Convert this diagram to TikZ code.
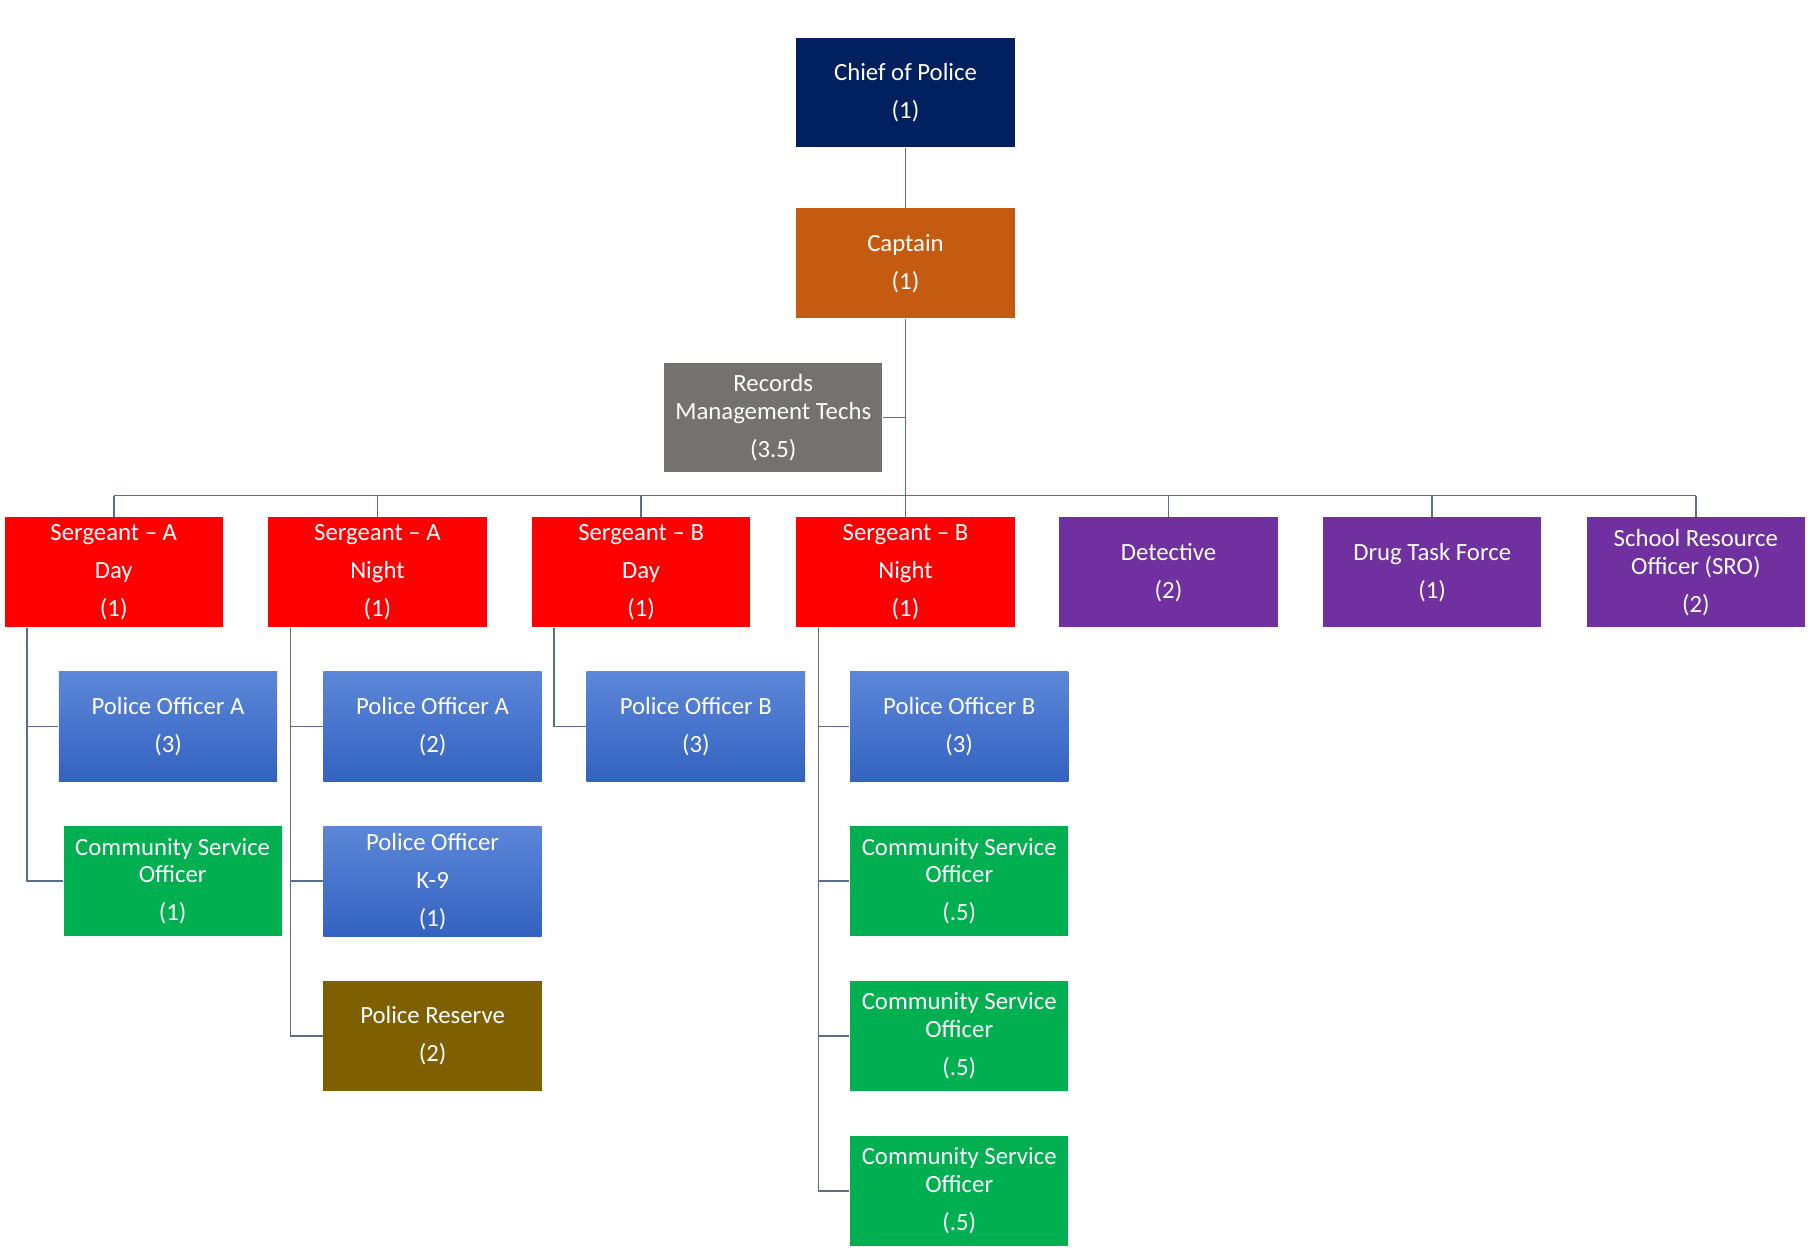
\documentclass[tikz,border=0pt]{standalone}
\usepackage{fontspec}
\setmainfont{Carlito}
\definecolor{chiefblue}{HTML}{002060}
\definecolor{captorange}{HTML}{C55A11}
\definecolor{recgray}{HTML}{767171}
\definecolor{sgtred}{HTML}{FF0000}
\definecolor{unitpurple}{HTML}{7030A0}
\definecolor{csogreen}{HTML}{00B050}
\definecolor{reservebrown}{HTML}{7F6000}
\definecolor{offtop}{HTML}{5C87D8}
\definecolor{offbot}{HTML}{3362C0}
\definecolor{linkgray}{HTML}{5A6E8C}

\begin{document}
\begin{tikzpicture}
\tikzset{poste/.style={minimum width=1.89cm, minimum height=0.95cm, inner sep=0pt, align=center,
    text=white, font=\fontsize{6.1}{6.83}\selectfont},
  lien/.style={draw=linkgray, line width=0.4pt},
  agent/.style={poste, top color=offtop, bottom color=offbot}}
\useasboundingbox (0, 0) rectangle (15.68, -10.90);
% direction
\node[poste, fill=chiefblue] (CHEF) at (7.84, -0.80) {Chief of Police\\[2.56pt](1)};
\node[poste, fill=captorange] (CAP) at (7.84, -2.28) {Captain\\[2.56pt](1)};
\node[poste, fill=recgray] (REC) at (6.695, -3.615) {Records\\Management Techs\\[2.56pt](3.5)};
% sergents et unites
\node[poste, fill=sgtred] (SAJ) at (0.985, -4.955) {Sergeant -- A\\[2.56pt]Day\\[2.56pt](1)};
\node[poste, fill=sgtred] (SAN) at (3.268, -4.955) {Sergeant -- A\\[2.56pt]Night\\[2.56pt](1)};
\node[poste, fill=sgtred] (SBJ) at (5.551, -4.955) {Sergeant -- B\\[2.56pt]Day\\[2.56pt](1)};
\node[poste, fill=sgtred] (SBN) at (7.84, -4.955) {Sergeant -- B\\[2.56pt]Night\\[2.56pt](1)};
\node[poste, fill=unitpurple] (DET) at (10.117, -4.955) {Detective\\[2.56pt](2)};
\node[poste, fill=unitpurple] (DTF) at (12.40, -4.955) {Drug Task Force\\[2.56pt](1)};
\node[poste, fill=unitpurple] (SRO) at (14.683, -4.955) {School Resource\\Officer (SRO)\\[2.56pt](2)};
% equipes
\node[agent] (POAJ) at (1.455, -6.29) {Police Officer A\\[2.56pt](3)};
\node[poste, fill=csogreen] (CSAJ) at (1.495, -7.63) {Community Service\\Officer\\[2.56pt](1)};
\node[agent] (POAN) at (3.745, -6.29) {Police Officer A\\[2.56pt](2)};
\node[agent] (K9) at (3.745, -7.63) {Police Officer\\[2.56pt]K-9\\[2.56pt](1)};
\node[poste, fill=reservebrown] (RES) at (3.745, -8.97) {Police Reserve\\[2.56pt](2)};
\node[agent] (POBJ) at (6.025, -6.29) {Police Officer B\\[2.56pt](3)};
\node[agent] (POBN) at (8.305, -6.29) {Police Officer B\\[2.56pt](3)};
\node[poste, fill=csogreen] (CSB1) at (8.305, -7.63) {Community Service\\Officer\\[2.56pt](.5)};
\node[poste, fill=csogreen] (CSB2) at (8.305, -8.97) {Community Service\\Officer\\[2.56pt](.5)};
\node[poste, fill=csogreen] (CSB3) at (8.305, -10.31) {Community Service\\Officer\\[2.56pt](.5)};
% liens
\coordinate (BUS) at (7.84, -4.29);
\draw[lien] (CHEF.south) -- (CAP.north);
\draw[lien] (CAP.south) -- (SBN.north);
\draw[lien] (REC.east) -- (REC.east -| CAP.south);
\draw[lien] (SAJ.north |- BUS) -- (SRO.north |- BUS);
\draw[lien] (SAJ.north) -- (SAJ.north |- BUS);
\draw[lien] (SAN.north) -- (SAN.north |- BUS);
\draw[lien] (SBJ.north) -- (SBJ.north |- BUS);
\draw[lien] (DET.north) -- (DET.north |- BUS);
\draw[lien] (DTF.north) -- (DTF.north |- BUS);
\draw[lien] (SRO.north) -- (SRO.north |- BUS);
\draw[lien] ([xshift=2mm]SAJ.south west) |- (POAJ.west);
\draw[lien] ([xshift=2mm]SAJ.south west) |- (CSAJ.west);
\draw[lien] ([xshift=2mm]SAN.south west) |- (POAN.west);
\draw[lien] ([xshift=2mm]SAN.south west) |- (K9.west);
\draw[lien] ([xshift=2mm]SAN.south west) |- (RES.west);
\draw[lien] ([xshift=2mm]SBJ.south west) |- (POBJ.west);
\draw[lien] ([xshift=2mm]SBN.south west) |- (POBN.west);
\draw[lien] ([xshift=2mm]SBN.south west) |- (CSB1.west);
\draw[lien] ([xshift=2mm]SBN.south west) |- (CSB2.west);
\draw[lien] ([xshift=2mm]SBN.south west) |- (CSB3.west);
\end{tikzpicture}
\end{document}
